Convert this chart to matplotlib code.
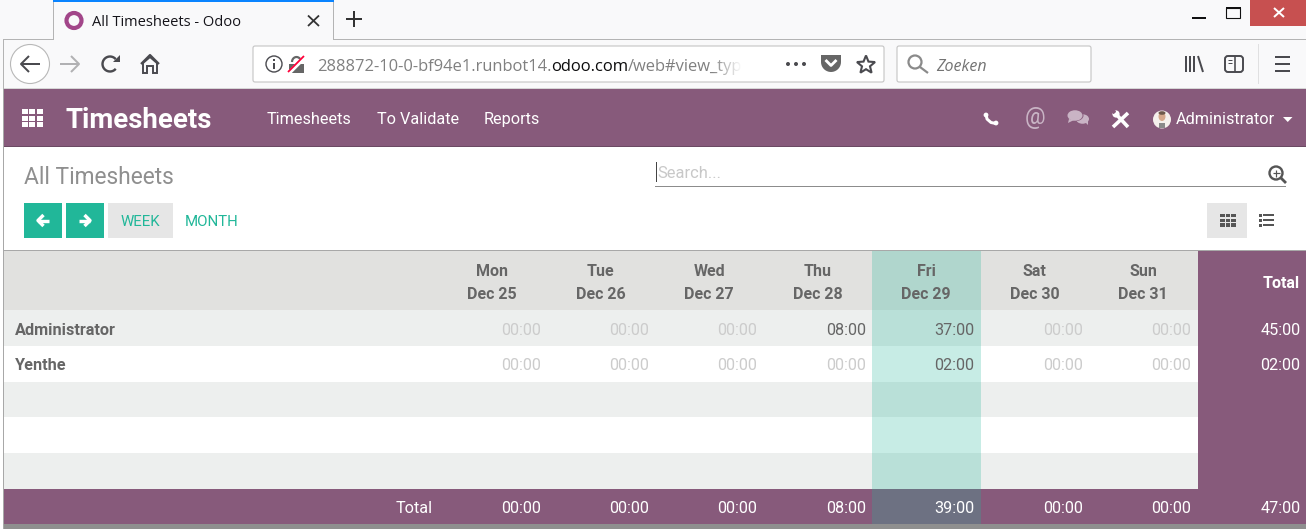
import matplotlib

matplotlib.use("Agg")

import matplotlib.pyplot as plt
import numpy as np
from matplotlib.patches import Circle, Ellipse, FancyBboxPatch, Polygon, Rectangle

plt.rcParams["font.family"] = ["Roboto", "DejaVu Sans"]

# timesheet values
day_names = ["Mon", "Tue", "Wed", "Thu", "Fri", "Sat", "Sun"]
day_dates = ["Dec 25", "Dec 26", "Dec 27", "Dec 28", "Dec 29", "Dec 30", "Dec 31"]
employees = ["Administrator", "Yenthe"]
admin_hours = ["00:00", "00:00", "00:00", "08:00", "37:00", "00:00", "00:00"]
yenthe_hours = ["00:00", "00:00", "00:00", "00:00", "02:00", "00:00", "00:00"]
row_totals = ["45:00", "02:00"]
day_totals = ["00:00", "00:00", "00:00", "08:00", "39:00", "00:00", "00:00"]
grand_total = "47:00"
nav_items = ["Timesheets", "To Validate", "Reports"]

PURPLE = "#875a7b"
TEAL = "#21b799"
DARK = "#666666"
HEAD_GREY = "#e1e1df"
ROW_GREY = "#edefee"
CHROME = "#f9f9fa"
ICON = "#4a4a4f"
FADED = "#c9b4c5"

WIDTH, HEIGHT = 1306, 529
COL_EDGES = [438.5, 547, 655.5, 764, 872.5, 981, 1089.5, 1198]
ROW_EDGES = [310, 346, 382, 417, 453, 489]
VALUE_SIZE = 16.3

fig = plt.figure(figsize=(WIDTH / 100, HEIGHT / 100), dpi=100)
ax = fig.add_axes([0, 0, 1, 1])
ax.set_xlim(0, WIDTH)
ax.set_ylim(HEIGHT, 0)
ax.axis("off")


def box(x0, y0, x1, y1, color, **kwargs):
    ax.add_patch(Rectangle((x0, y0), x1 - x0, y1 - y0, fc=color, ec="none", **kwargs))


def label(x, y, text, size, color, ha="left", weight="normal", **kwargs):
    # size is in pixels, y is the text baseline
    ax.text(x, y, text, fontsize=size * 0.72, color=color, ha=ha, va="baseline",
            fontweight=weight, **kwargs)


def stroke(xs, ys, color=ICON, width=2.0, **kwargs):
    ax.plot(xs, ys, color=color, lw=width * 0.72, solid_capstyle="butt", **kwargs)


def rounded(x0, y0, x1, y1, fc, ec, radius=2, lw=0.8):
    ax.add_patch(FancyBboxPatch((x0 + radius, y0 + radius), x1 - x0 - 2 * radius, y1 - y0 - 2 * radius,
                                boxstyle=f"round,pad={radius},rounding_size={radius}",
                                fc=fc, ec=ec, lw=lw))


# browser chrome
box(0, 0, WIDTH, 89, CHROME)
box(53, 0, 54, 40, "#b4b4b4")
box(333, 0, 334, 40, "#b4b4b4")
box(3, 39, 53, 40, "#b4b4b4")
box(334, 39, WIDTH, 40, "#b4b4b4")
box(53, 0, 334, 2, "#0a84ff")
box(3, 39, 4, 89, "#b4b4b4")
box(4, 88, WIDTH, 89, "#d6d6d6")
ax.add_patch(Circle((74, 20.5), 7.5, fc="none", ec="#a24689", lw=3))
label(92, 26, "All Timesheets - Odoo", 14.6, "#15141a", family="Open Sans")
stroke([308, 319], [15.5, 26], "#333333", 1.8)
stroke([319, 308], [15.5, 26], "#333333", 1.8)
stroke([346, 362], [19, 19], "#333333", 2)
stroke([354, 354], [11, 27], "#333333", 2)

# window buttons
box(1192, 17, 1206, 19, "#111111")
ax.add_patch(Rectangle((1226, 8), 14, 10, fc="none", ec="#111111", lw=0.8))
box(1225.5, 7, 1240.5, 9, "#111111")
box(1250, 0, WIDTH, 26, "#c75050")
stroke([1274, 1284], [8, 17], "white", 2)
stroke([1284, 1274], [8, 17], "white", 2)

# nav buttons
ax.add_patch(Circle((30, 64), 19.5, fc="white", ec="#b8b8b8", lw=0.8))
stroke([21, 40], [64, 64], ICON, 2)
stroke([29, 21, 29], [56, 64, 72], ICON, 2)
stroke([60, 79], [64, 64], "#b1b1b3", 2)
stroke([71, 79, 71], [56, 64, 72], "#b1b1b3", 2)
arc = np.radians(np.linspace(40, 320, 30))
stroke(110 + 7.5 * np.cos(arc), 64 - 7.5 * np.sin(arc), ICON, 2.4)
ax.add_patch(Polygon([[113, 62], [120, 55], [120, 62]], fc=ICON, ec="none"))
stroke([141, 150, 159], [64, 55, 64], ICON, 2.2)
ax.add_patch(Polygon([[143, 63], [150, 57], [157, 63], [157, 73], [153, 73], [153, 66],
                      [147, 66], [147, 73], [143, 73]], fc="none", ec=ICON, lw=1.4))

# url bar
rounded(253, 46, 884, 82, "white", "#c4c4c4")
ax.add_patch(Circle((274, 64), 8, fc="none", ec=ICON, lw=1))
box(273, 63, 275, 69, ICON)
box(273, 59, 275, 61, ICON)
box(289, 64, 304, 73, "#666666")
shackle = np.radians(np.linspace(0, 180, 16))
stroke(296.5 + 4.5 * np.cos(shackle), 62 - 5 * np.sin(shackle), "#666666", 2.2)
stroke([288, 305], [74, 57], "white", 4)
stroke([288, 304], [72, 56], "#ff0039", 1.8)
label(317, 71, "288872-10-0-bf94e1.runbot14.", 16.5, "#808080", family="Open Sans")
label(551, 71, "odoo.com", 16.5, "#0c0c0d", family="Open Sans")
label(628, 71, "/web#view_typ", 16.5, "#808080", family="Open Sans")
fade = np.ones((1, 40, 4))
fade[0, :, 3] = np.linspace(0, 1, 40)
box(742, 48, 782, 80, "white")
ax.imshow(fade, extent=[712, 742, 80, 48], aspect="auto", zorder=3)
ax.set_xlim(0, WIDTH)
ax.set_ylim(HEIGHT, 0)
for dot_x in [788, 796, 804]:
    ax.add_patch(Circle((dot_x, 64), 2, fc=ICON, ec="none"))
pocket = np.radians(np.linspace(180, 360, 20))
pocket_xs = [821, 841] + list(831 + 10 * np.cos(pocket))[::-1]
pocket_ys = [55, 55] + list(62 - 10 * np.sin(pocket))[::-1]
ax.add_patch(Polygon(np.c_[pocket_xs, pocket_ys], fc="#666666", ec="none", joinstyle="round"))
stroke([825.5, 831, 836.5], [60, 65.5, 60], "white", 2.8)
theta = np.arange(10) * np.pi / 5 + np.pi / 2
star_r = np.where(np.arange(10) % 2 == 0, 9.5, 4.2)
ax.add_patch(Polygon(np.c_[866 + star_r * np.cos(theta), 65 - star_r * np.sin(theta)],
                     fc="none", ec=ICON, lw=1.5))

# search bar
rounded(897, 46, 1091, 82, "white", "#c4c4c4")
ax.add_patch(Circle((915, 62), 6.5, fc="none", ec="#8a8a8a", lw=1.6))
stroke([920, 928], [67, 73], "#8a8a8a", 2.2)
label(936, 71, "Zoeken", 16, "#737373", family="Open Sans", style="italic")

# toolbar icons right
for bar_x in [1186, 1190, 1194]:
    stroke([bar_x, bar_x], [56, 72], ICON, 2)
stroke([1198, 1203], [56, 72], ICON, 2)
rounded(1225, 56, 1243, 72, "none", ICON, radius=3, lw=1.4)
stroke([1235, 1235], [56, 72], ICON, 1.6)
stroke([1228, 1232], [60, 60], ICON, 1)
stroke([1228, 1232], [63, 63], ICON, 1)
box(1258, 44, 1259, 84, "#e0e0e1")
for bar_y in [57, 64, 71]:
    stroke([1275, 1290], [bar_y, bar_y], ICON, 2)

# odoo navbar
box(4, 89, WIDTH, 147, PURPLE)
box(4, 146, WIDTH, 147, "#6b4a63")
for grid_y in [109, 115.5, 122]:
    for grid_x in [21.5, 29, 36.5]:
        box(grid_x, grid_y, grid_x + 6, grid_y + 5, "white")
label(65.5, 128, "Timesheets", 27.6, "white", weight="bold")
for nav_x, item in zip([267, 377, 484], nav_items):
    label(nav_x, 124, item, 16.3, "white")

# phone, at, chat, tools
stroke([986, 987, 991, 996], [114, 119, 122.5, 123.5], "white", 3)
ax.add_patch(Circle((986, 115), 2.4, fc="white", ec="none"))
ax.add_patch(Circle((996, 123), 2.4, fc="white", ec="none"))
label(1035, 124, "@", 23, FADED, ha="center")
ax.add_patch(Ellipse((1082.5, 119), 13, 9.5, fc=FADED, ec="none"))
ax.add_patch(Polygon([[1085, 122], [1088, 125], [1088, 120]], fc=FADED, ec="none"))
ax.add_patch(Ellipse((1075, 115.5), 17, 11.5, fc=PURPLE, ec="none"))
ax.add_patch(Ellipse((1075, 115.5), 15, 10.5, fc=FADED, ec="none"))
ax.add_patch(Polygon([[1069, 119], [1068, 123], [1074, 120]], fc=FADED, ec="none"))
stroke([1115, 1128], [113, 127], "white", 3.6)
stroke([1128, 1113], [113, 127], "white", 3.6)
ax.add_patch(Circle((1116, 114), 3.6, fc="white", ec="none"))
ax.add_patch(Circle((1114, 112), 2, fc=PURPLE, ec="none"))
ax.add_patch(Circle((1162, 119.5), 9, fc="#f5f0ec", ec="none"))
ax.add_patch(Ellipse((1162, 116.5), 7, 9, fc="#d6a98c", ec="none"))
ax.add_patch(Ellipse((1162, 113), 7, 3.6, fc="#6e5a4c", ec="none"))
box(1159, 123, 1165, 128, "#8a8a8a")
label(1175.5, 124, "Administrator", 16.3, "white")
ax.add_patch(Polygon([[1283, 117], [1292.5, 117], [1287.75, 122]], fc="white", ec="none"))

# control panel
box(3, 89, 4, HEIGHT, "#a8a8a8")
label(24, 184, "All Timesheets", 22.7, "#8f8f8f")
box(655, 186, 1286, 187, "#8c8c8c")
box(656, 162, 657, 182, "#444444")
label(657, 178, "Search...", 16.5, "#c8c8c8")
ax.add_patch(Circle((1276, 173), 6.5, fc="none", ec="#555555", lw=1.7))
stroke([1281, 1286], [178, 183], "#555555", 2.8)
stroke([1272.5, 1279.5], [173, 173], "#555555", 1.2)
stroke([1276, 1276], [169.5, 176.5], "#555555", 1.2)

box(24, 203, 62, 238, TEAL)
box(66, 203, 104, 238, TEAL)
stroke([49, 38], [220.5, 220.5], "white", 3.4)
stroke([43.5, 38, 43.5], [215, 220.5, 226], "white", 3.4)
stroke([79, 90], [220.5, 220.5], "white", 3.4)
stroke([84.5, 90, 84.5], [215, 220.5, 226], "white", 3.4)
box(108, 203, 173, 238, "#e6e6e6")
label(120.5, 226, "WEEK", 15, TEAL)
label(185, 226, "MONTH", 15, TEAL)

box(1207, 203, 1247, 238, "#e6e6e6")
for grid_y in [213.5, 218.5, 223]:
    for grid_x in [1220, 1225.5, 1231]:
        box(grid_x, grid_y, grid_x + 4.5, grid_y + 3.8, "#555555")
for bar_y in [215, 220, 225]:
    box(1259, bar_y - 1.5, 1262, bar_y + 1.5, "#555555")
    box(1263, bar_y - 1, 1274, bar_y + 1, "#555555")

# grid background
box(4, 250, WIDTH, 251, "#a8a8a8")
box(4, 251, 1198, 310, HEAD_GREY)
box(1198, 251, WIDTH, 524, PURPLE)
for i in range(5):
    box(4, ROW_EDGES[i], 1198, ROW_EDGES[i + 1], ROW_GREY if i % 2 == 0 else "white")
box(4, 489, WIDTH, 524, PURPLE)
box(4, 524, WIDTH, HEIGHT, "#8f8f8f")

# today column overlay
today = day_names.index("Fri")
box(int(COL_EDGES[today]), 251, int(COL_EDGES[today + 1]), 524, TEAL, alpha=0.25, zorder=2)

# header
for i, (day, date) in enumerate(zip(day_names, day_dates)):
    center = (COL_EDGES[i] + COL_EDGES[i + 1]) / 2 - 0.7
    label(center, 276, day, 16, DARK, ha="center", weight="bold", zorder=3)
    label(center, 299, date, 16, DARK, ha="center", weight="bold", zorder=3)
label(1300, 288, "Total", 16, "white", ha="right", weight="bold")

# rows
row_baselines = [335, 370]
row_values = [admin_hours, yenthe_hours]
for base, name, values, total in zip(row_baselines, employees, row_values, row_totals):
    label(15, base, name, 16.3, DARK, weight="bold")
    for i, value in enumerate(values):
        color = "#cccccc" if value == "00:00" else DARK
        label(COL_EDGES[i + 1] - 6.5, base, value, VALUE_SIZE, color, ha="right", zorder=3)
    label(1300.5, base, total, VALUE_SIZE, "white", ha="right")

# footer
label(432.5, 513, "Total", 16.3, "white", ha="right")
for i, value in enumerate(day_totals):
    label(COL_EDGES[i + 1] - 6.5, 513, value, VALUE_SIZE, "white", ha="right", zorder=3)
label(1300.5, 513, grand_total, VALUE_SIZE, "white", ha="right")

fig.savefig("out.png", dpi=100)
plt.close(fig)
